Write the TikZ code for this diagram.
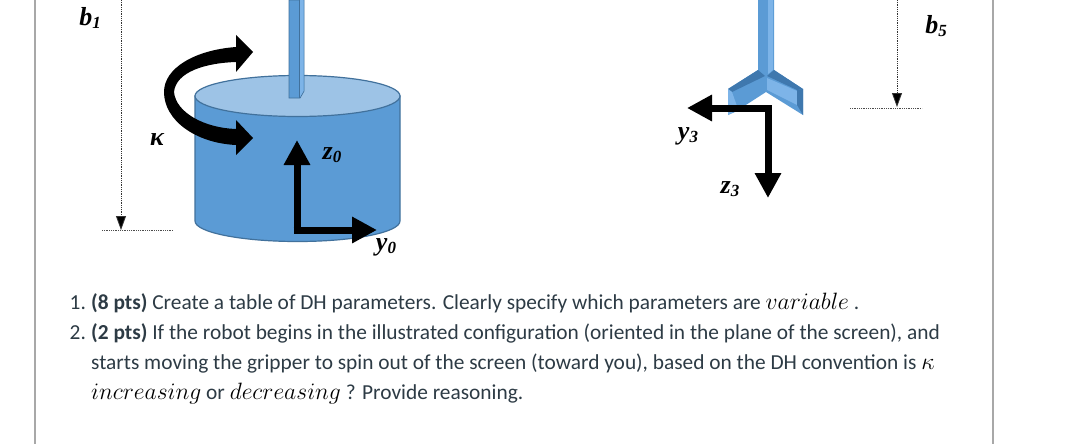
\documentclass[tikz,border=0pt]{standalone}
\usepackage{fontspec}
\setmainfont{Carlito}
\newfontfamily\labelfont{Liberation Serif}
\usetikzlibrary{arrows.meta}
\definecolor{bodyblue}{HTML}{5B9BD5}
\definecolor{topblue}{HTML}{9DC3E6}
\definecolor{edgeblue}{HTML}{41719C}
\definecolor{lightblue}{HTML}{7DB4E8}
\definecolor{darkblue}{HTML}{3F78AE}
\definecolor{textgrey}{HTML}{2D3B45}
\definecolor{framegrey}{HTML}{A8A8A8}
\newcommand{\sublabel}[2]{#1\raisebox{-3pt}{\fontsize{17}{17}\selectfont #2}}
\newcommand{\mathword}[1]{\scalebox{1.14}{\color{black}$#1$}}
\newcommand{\itemnum}[1]{\makebox[20pt][l]{\hspace{-1.5pt}#1}}
\tikzset{
	frameaxis/.style={line width=7pt,-{Triangle[width=25pt,length=25pt]}},
	dimline/.style={densely dotted,line width=0.8pt,black!80,-{Triangle[width=10pt,length=14pt,fill=black]}},
	baseline/.style={densely dotted,line width=0.8pt,black!70},
	symlabel/.style={font=\labelfont\fontsize{26}{26}\selectfont\bfseries\itshape,inner sep=0pt},
	textline/.style={anchor=base west,inner sep=0pt,text=textgrey,font=\fontsize{21.37}{26}\selectfont},
}
\begin{document}
\begin{tikzpicture}[x=1pt,y=-1pt]
	\useasboundingbox (0,0) rectangle (1071,444);
	\fill[white] (0,0) rectangle (1071,444);
	\draw[framegrey,line width=1.2pt] (35,0) -- (35,444);
	\draw[framegrey,line width=1.2pt] (993,0) -- (993,444);
	% cylinder
	\fill[bodyblue,draw=edgeblue,line width=1.2pt] (195,96) -- (195,221) arc[start angle=180,end angle=0,x radius=102.5,y radius=20.5] -- (400,96) -- cycle;
	\fill[topblue,draw=edgeblue,line width=1.2pt] (297.5,96) ellipse[x radius=102.5,y radius=20.5];
	% shaft
	\fill[bodyblue,draw=edgeblue,line width=0.8pt] (289,0) -- (304,0) -- (304,91) -- (300,98) -- (289,98) -- cycle;
	\fill[lightblue] (300,0) -- (303.5,0) -- (303.5,91) -- (300,97) -- cycle;
	\draw[edgeblue,line width=0.8pt] (299.5,0) -- (299.5,98);
	% curved arrow
	\fill[black] (236,47) -- (236,35) -- (253,52) -- (236,72) -- (236,62) .. controls (205,63) and (176,72) .. (174,92) .. controls (176,113) and (205,128) .. (236,129) -- (236,120) -- (253,138) -- (236,155) -- (236,145) .. controls (195,143) and (164,120) .. (164,92) .. controls (164,68) and (195,50) .. (236,47) -- cycle;
	% frame at the base
	\coordinate (base0) at (297,230);
	\coordinate (z0tip) at (297,140);
	\coordinate (y0tip) at (377,230);
	\draw[frameaxis] (base0) -- (z0tip);
	\draw[frameaxis] ([xshift=-3.5pt]base0) -- (y0tip);
	% gripper
	\fill[bodyblue] (758,0) -- (774,0) -- (774,70) -- (803,89) -- (803,115) -- (766,92) -- (735,112) -- (728,115) -- (728,89) -- (758,70) -- cycle;
	\fill[lightblue] (768,0) -- (773,0) -- (773,70) -- (768,74) -- cycle;
	\fill[darkblue] (758,70) -- (728,89) -- (732,92) -- (765,76) -- cycle;
	\fill[darkblue] (774,70) -- (803,89) -- (797,90) -- (767,76) -- cycle;
	\fill[lightblue] (767,78) -- (797,91) -- (797,105) -- (767,90) -- cycle;
	\fill[lightblue] (728,89) -- (732,92) -- (738,109) -- (728,115) -- cycle;
	\fill[darkblue] (797,90) -- (803,89) -- (803,115) -- (797,105) -- cycle;
	% frame at the gripper
	\coordinate (base3) at (768,108);
	\coordinate (y3tip) at (687,108);
	\coordinate (z3tip) at (768,198);
	\draw[frameaxis] ([xshift=3.5pt]base3) -- (y3tip);
	\draw[frameaxis] (base3) -- (z3tip);
	% offsets
	\coordinate (b1top) at (121,0);
	\coordinate (b1end) at (121,230);
	\coordinate (b1left) at (102,230);
	\coordinate (b1right) at (173,230);
	\coordinate (b5top) at (897,0);
	\coordinate (b5end) at (897,107);
	\coordinate (b5left) at (850,108);
	\coordinate (b5right) at (922,108);
	\draw[dimline] (b1top) -- (b1end);
	\draw[baseline] (b1left) -- (b1right);
	\draw[dimline] (b5top) -- (b5end);
	\draw[baseline] (b5left) -- (b5right);
	% labels
	\node[symlabel] (b1lab) at (90,18) {\sublabel{b}{1}};
	\node[symlabel] (b5lab) at (936,26) {\sublabel{b}{5}};
	\node[symlabel] (kappalab) at (157,140) {κ};
	\node[symlabel] (z0lab) at (332,155) {\sublabel{z}{0}};
	\node[symlabel] (y0lab) at (386,247) {\sublabel{y}{0}};
	\node[symlabel] (y3lab) at (688,136) {\sublabel{y}{3}};
	\node[symlabel] (z3lab) at (730,189) {\sublabel{z}{3}};
	% questions
	\node[textline] (item1) at (71,309) {\itemnum{1.}\textbf{(8 pts)} Create a table of DH parameters. Clearly specify which parameters are \mathword{variable} .};
	\node[textline] (item2) at (71,339) {\itemnum{2.}\textbf{(2 pts)} If the robot begins in the illustrated configuration (oriented in the plane of the screen), and};
	\node[textline] (item2b) at (91,369) {starts moving the gripper to spin out of the screen (toward you), based on the DH convention is \mathword{\kappa}};
	\node[textline] (item2c) at (91,399) {\mathword{increasing} or \mathword{decreasing} ? Provide reasoning.};
\end{tikzpicture}
\end{document}
